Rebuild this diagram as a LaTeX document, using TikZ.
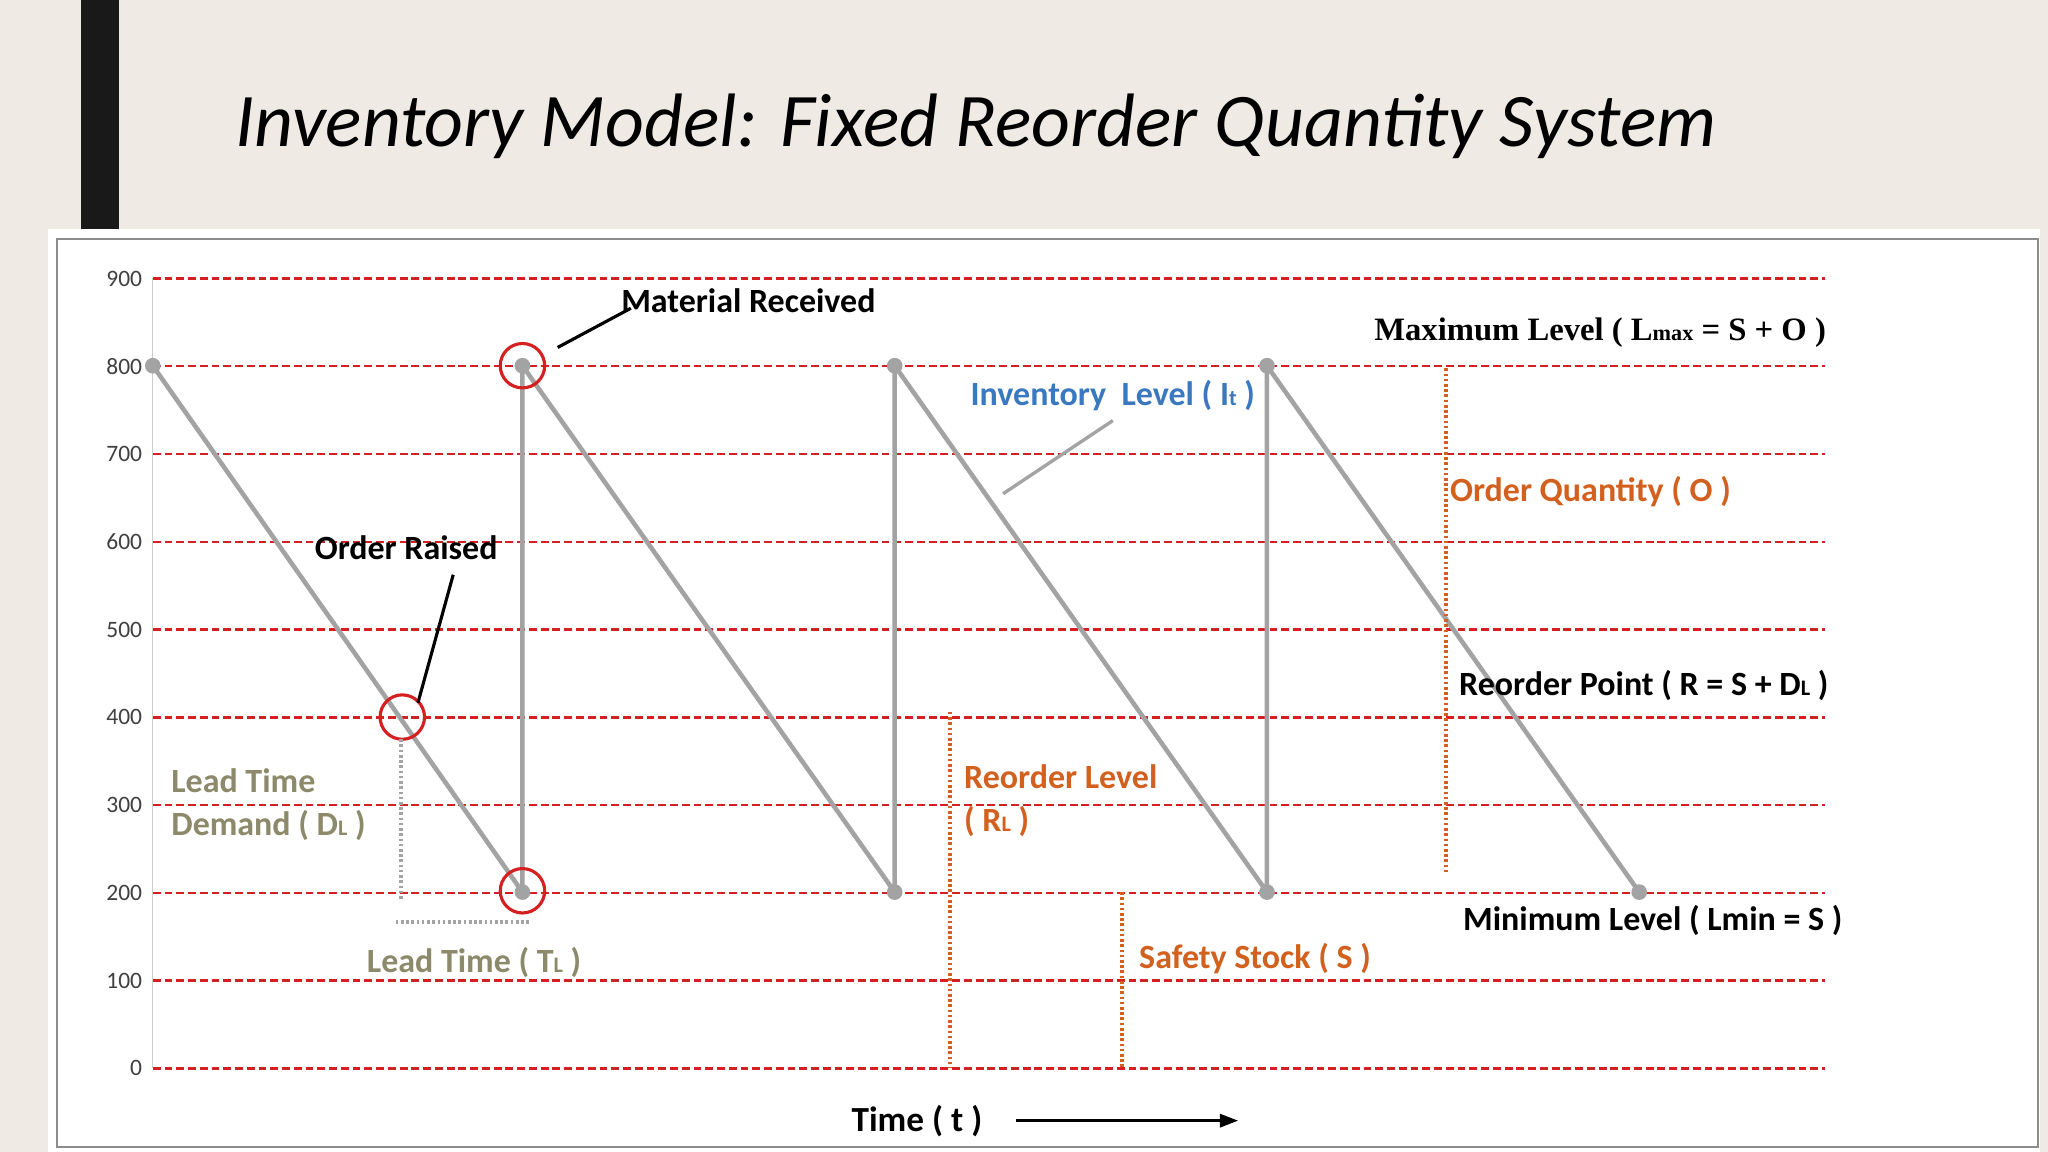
\documentclass[tikz,border=0pt]{standalone}
\usepackage{fontspec}
\setmainfont{Carlito}
\newfontfamily\serifb{Liberation Serif}
\usetikzlibrary{arrows.meta}
\definecolor{bgc}{HTML}{EFEBE4}
\definecolor{gridred}{HTML}{D42020}
\definecolor{invgray}{HTML}{A3A3A3}
\definecolor{olivet}{HTML}{8C8A6A}
\definecolor{orangec}{HTML}{D2601E}
\definecolor{bluec}{HTML}{3A78C0}
\newcommand{\smsub}[1]{{\fontsize{17}{20}\selectfont #1}}
\tikzset{
  grid/.style={gridred, line width=1.8pt, dash pattern=on 6pt off 3pt},
  inv/.style={invgray, line width=3.5pt, line cap=round},
  ring/.style={circle, draw=gridred, line width=2.4pt, minimum size=34pt, inner sep=0pt},
  lbl/.style={font=\fontsize{26}{30}\selectfont\bfseries, inner sep=0pt},
  ax/.style={font=\fontsize{18}{20}\selectfont, text=black!75, anchor=east, inner sep=0pt},
  odot/.style={orangec, line width=3pt, dash pattern=on 2pt off 2pt},
  gdot/.style={invgray, line width=3pt, dash pattern=on 2pt off 2pt},
}
\begin{document}
\begin{tikzpicture}[x=1pt,y=-1pt]
\fill[bgc] (0,0) rectangle (1568,882);
\useasboundingbox (0,0) rectangle (1568,882);
\fill[black!90] (62,0) rectangle (91,175);
\node[font=\fontsize{58}{66}\selectfont\itshape, anchor=west, inner sep=0pt] (title) at (180,97) {Inventory Model: Fixed Reorder Quantity System};
\fill[white] (37,175) rectangle (1562,882);
\draw[black!45, line width=1.5pt] (44,183) rectangle (1560,878);
% axis
\draw[black!20, line width=1pt] (117,213) -- (117,818);
\foreach \v [count=\i from 0] in {0,100,...,900}{
  \pgfmathsetmacro{\yy}{818-67.2*\i}
  \draw[grid] (117,\yy) -- (1397,\yy);
  \node[ax] (t\i) at (109,\yy) {\v};
}
% inventory line
\coordinate (a0) at (117,280); \coordinate (b0) at (400,683);
\coordinate (a1) at (400,280); \coordinate (b1) at (685,683);
\coordinate (a2) at (685,280); \coordinate (b2) at (970,683);
\coordinate (a3) at (970,280); \coordinate (b3) at (1255,683);
\draw[inv] (a0)--(b0)--(a1)--(b1)--(a2)--(b2)--(a3)--(b3);
\foreach \p in {a0,b0,a1,b1,a2,b2,a3,b3}{\fill[invgray] (\p) circle (6pt);}
\node[ring] (r1) at (308,549) {};
\node[ring] (r2) at (400,280) {};
\node[ring] (r3) at (400,682) {};
% labels
\node[lbl] (mr) at (573,230) {Material Received};
\coordinate (m1) at (427,266); \coordinate (m2) at (483,236);
\draw[line width=2.4pt] (m1) -- (m2);
\node[lbl] (ora) at (311,419) {Order Raised};
\coordinate (o1) at (347,440); \coordinate (o2) at (320,538);
\draw[line width=2.4pt] (o1) -- (o2);
\node[lbl, text=bluec] (il) at (852,303) {Inventory\ \ Level ( I\smsub{t} )};
\coordinate (i1) at (768,378); \coordinate (i2) at (852,322);
\draw[invgray, line width=2.5pt] (i1) -- (i2);
% grey dotted
\coordinate (g1) at (307,566); \coordinate (g2) at (307,690);
\draw[gdot] (g1) -- (g2);
\coordinate (g3) at (303,706); \coordinate (g4) at (405,706);
\draw[gdot] (g3) -- (g4);
\node[lbl, text=olivet, anchor=west] (ltd1) at (131,598) {Lead Time};
\node[lbl, text=olivet, anchor=west] (ltd2) at (131,632) {Demand ( D\smsub{L} )};
\node[lbl, text=olivet] (ltt) at (363,737) {Lead Time ( T\smsub{L} )};
% orange dotted
\coordinate (o3) at (727,545); \coordinate (o4) at (727,818);
\draw[odot] (o3) -- (o4);
\coordinate (o5) at (859,683); \coordinate (o6) at (859,818);
\draw[odot] (o5) -- (o6);
\coordinate (o7) at (1107,282); \coordinate (o8) at (1107,668);
\draw[odot] (o7) -- (o8);
\node[lbl, text=orangec, anchor=west] (rl1) at (738,595) {Reorder Level};
\node[lbl, text=orangec, anchor=west] (rl2) at (738,629) {( R\smsub{L} )};
\node[lbl, text=orangec, anchor=west] (ss) at (872,734) {Safety Stock ( S )};
\node[lbl, text=orangec, anchor=west] (oq) at (1110,376) {Order Quantity ( O )};
\node[lbl, anchor=west] (rp) at (1117,525) {Reorder Point ( R = S + D\smsub{L} )};
\node[lbl, anchor=west, font=\serifb\fontsize{25}{28}\selectfont\bfseries] (ml) at (1052,255) {Maximum Level ( L{\fontsize{17}{20}\selectfont max} = S + O )};
\node[lbl, anchor=west] (mn) at (1120,705) {Minimum Level ( Lmin = S )};
\node[lbl, font=\fontsize{27}{30}\selectfont\bfseries] (tm) at (702,858) {Time ( t )};
\coordinate (ta) at (778,858); \coordinate (tb) at (948,858);
\draw[line width=2.4pt, -{Triangle[length=14pt,width=10pt]}] (ta) -- (tb);
\end{tikzpicture}
\end{document}
